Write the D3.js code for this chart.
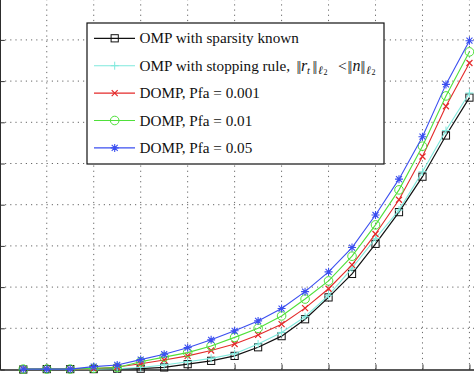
<!DOCTYPE html>
<html>
<head>
<meta charset="utf-8">
<script src="https://cdn.jsdelivr.net/npm/d3@7"></script>
<style>
body { margin: 0; background: #fff; }
svg { display: block; }
</style>
</head>
<body>
<div id="chart"></div>
<script>
// x positions of the points (the tick labels are cut off in the picture)
var steps = [1, 2, 3, 4, 5, 6, 7, 8, 9, 10, 11, 12, 13, 14, 15, 16, 17, 18, 19, 20];
var xTicks = [0, 2, 4, 6, 8, 10, 12, 14, 16, 18, 20, 22];
var yTicks = [0, 0.1, 0.2, 0.3, 0.4, 0.5, 0.6, 0.7, 0.8, 0.9, 1];

// series values
var ompKnown = [0, 0.001, 0.001, 0.001, 0.002, 0.002, 0.005, 0.013, 0.021, 0.033,
                0.054, 0.081, 0.122, 0.175, 0.232, 0.305, 0.382, 0.468, 0.568, 0.660];
var ompStop  = [0.001, 0.001, 0.001, 0.001, 0.002, 0.005, 0.011, 0.019, 0.027, 0.038,
                0.062, 0.090, 0.128, 0.180, 0.246, 0.318, 0.387, 0.480, 0.580, 0.671];
var domp001  = [0.001, 0.001, 0.001, 0.002, 0.006, 0.014, 0.023, 0.033, 0.046, 0.062,
                0.084, 0.110, 0.149, 0.196, 0.254, 0.329, 0.412, 0.517, 0.639, 0.744];
var domp01   = [0.001, 0.001, 0.001, 0.003, 0.005, 0.019, 0.030, 0.041, 0.057, 0.078,
                0.100, 0.130, 0.171, 0.215, 0.275, 0.351, 0.436, 0.542, 0.664, 0.771];
var domp05   = [0.001, 0.001, 0.001, 0.007, 0.011, 0.024, 0.037, 0.053, 0.072, 0.094,
                0.118, 0.148, 0.189, 0.237, 0.296, 0.375, 0.462, 0.565, 0.692, 0.798];

var seriesNames = ["OMP with sparsity known", "OMP with stopping rule", "DOMP, Pfa = 0.001",
                   "DOMP, Pfa = 0.01", "DOMP, Pfa = 0.05"];

function init() {
    var w = 474;
    var h = 374;

    var x = d3.scaleLinear().domain([0, 22]).range([-0.2, 516.4]);
    var y = d3.scaleLinear().domain([0, 1]).range([369.5, -42.5]);

    var svg = d3.select("#chart")
                .append("svg")
                .attr("width", w)
                .attr("height", h)
                .style("font-family", "'Liberation Serif', 'DejaVu Serif', serif");

    // dotted grid
    svg.append("g").selectAll("line")
        .data(yTicks.slice(1))
        .enter().append("line")
        .attr("x1", x(0)).attr("x2", x(22))
        .attr("y1", function(d) { return y(d); })
        .attr("y2", function(d) { return y(d); })
        .attr("stroke", "#555").attr("stroke-width", 0.9)
        .attr("stroke-dasharray", "1.2,4");
    svg.append("g").selectAll("line")
        .data(xTicks.slice(1))
        .enter().append("line")
        .attr("y1", y(0)).attr("y2", y(1))
        .attr("x1", function(d) { return x(d); })
        .attr("x2", function(d) { return x(d); })
        .attr("stroke", "#555").attr("stroke-width", 0.9)
        .attr("stroke-dasharray", "1.2,4");

    // axes with inward ticks, no labels visible
    svg.append("g")
        .attr("transform", "translate(0," + y(0) + ")")
        .call(d3.axisBottom(x).tickValues(xTicks).tickSize(-5).tickSizeOuter(0).tickFormat(""));
    svg.append("g")
        .attr("transform", "translate(" + x(0) + ",0)")
        .call(d3.axisLeft(y).tickValues(yTicks).tickSize(-5).tickSizeOuter(0).tickFormat(""));
    svg.selectAll(".domain").attr("stroke", "#222").attr("stroke-width", 1.3);
    svg.selectAll(".tick line").attr("stroke", "#333");

    // marker shapes
    var markers = {
        square: function(g, s) {
            g.append("rect").attr("x", -3.6).attr("y", -3.6).attr("width", 7.2).attr("height", 7.2)
                .attr("fill", "none").attr("stroke", s).attr("stroke-width", 1);
        },
        plus: function(g, s) {
            g.append("path").attr("d", "M-4,0H4M0,-4V4").attr("stroke", s).attr("stroke-width", 1);
        },
        cross: function(g, s) {
            g.append("path").attr("d", "M-3,-3L3,3M-3,3L3,-3").attr("stroke", s).attr("stroke-width", 1.2);
        },
        circle: function(g, s) {
            g.append("circle").attr("r", 4.3).attr("fill", "none").attr("stroke", s).attr("stroke-width", 1);
        },
        star: function(g, s) {
            g.append("path").attr("d", "M-4,0H4M0,-4V4M-3,-3L3,3M-3,3L3,-3")
                .attr("stroke", s).attr("stroke-width", 1.1);
        }
    };

    var series = [
        { values: ompKnown, color: "#111111", marker: "square", width: 1.2 },
        { values: ompStop,  color: "#7fe9dd", marker: "plus",   width: 1.1 },
        { values: domp001,  color: "#e42a2a", marker: "cross",  width: 1.1 },
        { values: domp01,   color: "#4fe03a", marker: "circle", width: 1.1 },
        { values: domp05,   color: "#3b4ff0", marker: "star",   width: 1.1 }
    ];

    var line = d3.line()
        .x(function(d, i) { return x(steps[i]); })
        .y(function(d) { return y(d); });

    series.forEach(function(s) {
        var g = svg.append("g");
        g.append("path")
            .attr("d", line(s.values))
            .attr("fill", "none")
            .attr("stroke", s.color)
            .attr("stroke-width", s.width);
        g.selectAll("g.pt")
            .data(s.values)
            .enter().append("g")
            .attr("class", "pt")
            .attr("transform", function(d, i) { return "translate(" + x(steps[i]) + "," + y(d) + ")"; })
            .each(function() { markers[s.marker](d3.select(this), s.color); });
    });

    // legend box
    var leg = svg.append("g");
    leg.append("rect")
        .attr("x", 87).attr("y", 23).attr("width", 297).attr("height", 141)
        .attr("fill", "#fff").attr("stroke", "#111").attr("stroke-width", 1.2);

    series.forEach(function(s, i) {
        var cy = 38.3 + i * 27.4;
        var base = cy + 5;
        leg.append("line")
            .attr("x1", 94).attr("x2", 135).attr("y1", cy).attr("y2", cy)
            .attr("stroke", s.color).attr("stroke-width", s.width);
        var m = leg.append("g").attr("transform", "translate(114.7," + cy + ")");
        markers[s.marker](m, s.color);

        var t = leg.append("text")
            .attr("x", 139.5).attr("y", base)
            .attr("font-size", 15.2)
            .attr("fill", "#111");
        if (i !== 1) {
            t.text(seriesNames[i]);
            return;
        }
        // OMP with stopping rule, ||r_t||_l2 < ||n||_l2
        t.text(seriesNames[1] + ",");
        var pieces = [
            { x: 296.5, dy: 0,   text: "||", size: 15.5 },
            { x: 301,   dy: 0,   text: "r",  size: 16, italic: true },
            { x: 307,   dy: 3,   text: "t",  size: 10.5, italic: true },
            { x: 312.5, dy: 0,   text: "||", size: 15.5 },
            { x: 318,   dy: 3,   text: "\u2113", size: 11.5, italic: true },
            { x: 323.5, dy: 4.5, text: "2",  size: 8 },
            { x: 338,   dy: 0,   text: "<",  size: 15.5 },
            { x: 347.5, dy: 0,   text: "||", size: 15.5 },
            { x: 352.5, dy: 0,   text: "n",  size: 16, italic: true },
            { x: 360.5, dy: 0,   text: "||", size: 15.5 },
            { x: 366,   dy: 3,   text: "\u2113", size: 11.5, italic: true },
            { x: 371.5, dy: 4.5, text: "2",  size: 8 }
        ];
        pieces.forEach(function(p) {
            leg.append("text")
                .attr("x", p.x).attr("y", base + p.dy)
                .attr("font-size", p.size)
                .attr("font-style", p.italic ? "italic" : "normal")
                .attr("letter-spacing", p.text === "||" ? -1.4 : 0)
                .attr("fill", "#111")
                .text(p.text);
        });
    });
}

window.onload = init;
</script>
</body>
</html>
